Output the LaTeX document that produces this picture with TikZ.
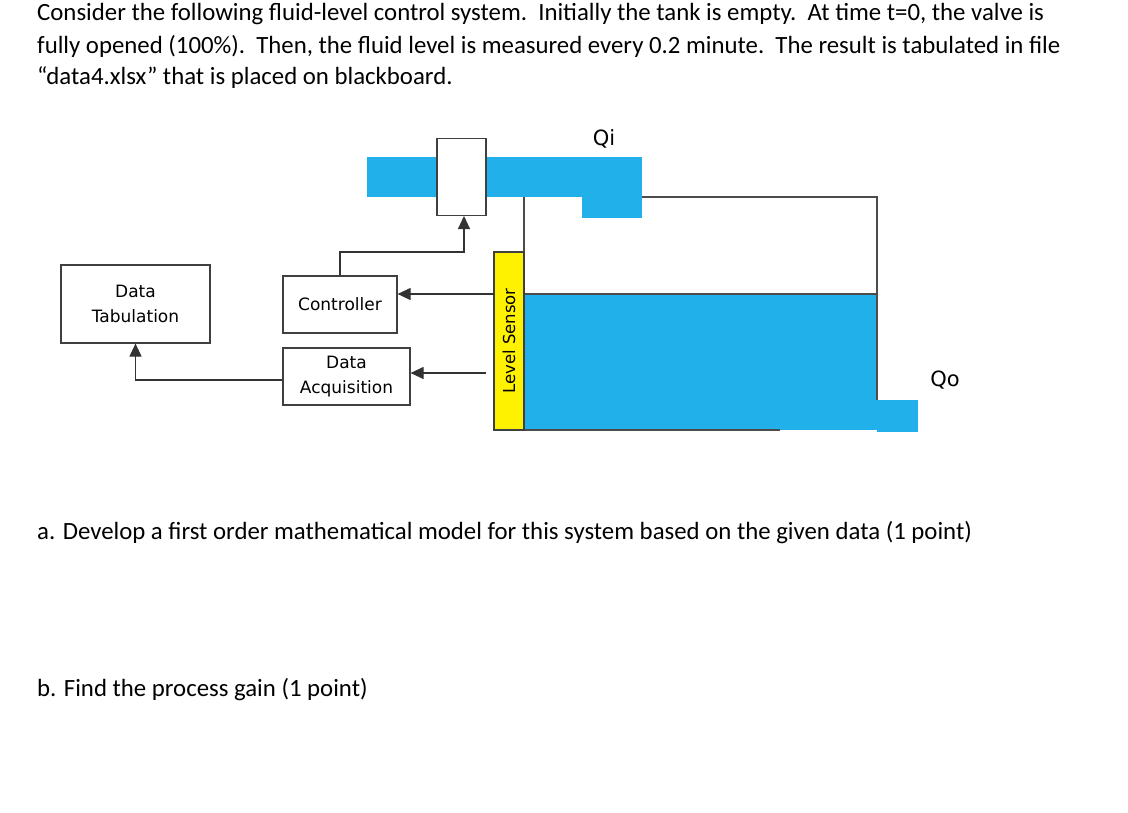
\documentclass[tikz,border=0pt]{standalone}
\usepackage{fontspec}
\setmainfont{Carlito}
\newfontfamily\lblfont{DejaVu Sans}
\usetikzlibrary{arrows.meta}

\tikzset{
  box/.style={draw=black!75, line width=1.2pt, align=center, font=\lblfont\fontsize{17}{25}\selectfont, inner sep=0pt},
  wall/.style={draw=black!70, line width=1.4pt},
  sig/.style={draw=black!80, line width=1.2pt, -{Triangle[length=13pt,width=12pt]}},
  para/.style={anchor=west, font=\fontsize{24.8}{30}\selectfont, inner sep=0pt}
}
\definecolor{pipeblue}{RGB}{34,176,234}

\begin{document}
\begin{tikzpicture}[x=1pt,y=-1pt]
\useasboundingbox (0,0) rectangle (1128,812);

% text of the task
\node[para] (l1) at (37,14) {Consider the following fluid-level control system.\ \ Initially the tank is empty.\ \ At time t=0, the valve is};
\node[para] (l2) at (37,46) {fully opened (100\%).\ \ Then, the fluid level is measured every 0.2 minute.\ \ The result is tabulated in file};
\node[para] (l3) at (37,78) {“data4.xlsx” that is placed on blackboard.};
\node[para] (qa) at (37,533) {a. Develop a first order mathematical model for this system based on the given data (1 point)};
\node[para] (qb) at (37,690) {b. Find the process gain (1 point)};

% pipes and water
\fill[pipeblue] (367,157) rectangle (437,197);
\fill[pipeblue] (486,157) rectangle (642,197);
\fill[pipeblue] (582,197) rectangle (642,218);
\fill[pipeblue] (524,294) rectangle (877,430);
\fill[pipeblue] (877,400) rectangle (918,432);

% tank
\draw[wall] (642,197) -- (877,197) -- (877,400);
\draw[wall] (524,197) -- (524,430) -- (780,430);
\draw[wall] (524,294) -- (877,294);

% valve and sensor
\node[box, minimum width=49pt, minimum height=77pt] (valve) at (461.5,177) {};
\node[box, fill=yellow, minimum width=178pt, minimum height=30pt, rotate=90, font=\lblfont\fontsize{16.5}{20}\selectfont] (sensor) at (509,341) {Level Sensor};
\coordinate (sctrl) at (494,294);
\coordinate (sdaq) at (486,373);

\node (qi) at (604,139) {\lblfont\fontsize{21}{25}\selectfont Qi};
\node (qo) at (945,380) {\lblfont\fontsize{21}{25}\selectfont Qo};

% blocks
\node[box, minimum width=114pt, minimum height=57pt] (ctrl) at (340,304.5) {Controller};
\node[box, minimum width=127pt, minimum height=57pt] (daq) at (346.5,376.5) {Data\\Acquisition};
\node[box, minimum width=149pt, minimum height=78pt] (tab) at (135.5,304) {Data\\Tabulation};

% signals
\draw[sig] (ctrl.north) |- (464,252) -- (464,216);
\draw[sig] (sctrl) -- (ctrl.east |- sctrl);
\draw[sig] (sdaq) -- (daq.east |- sdaq);
\draw[sig] (daq.west |- 0,380) -| (tab.south);
\end{tikzpicture}
\end{document}
